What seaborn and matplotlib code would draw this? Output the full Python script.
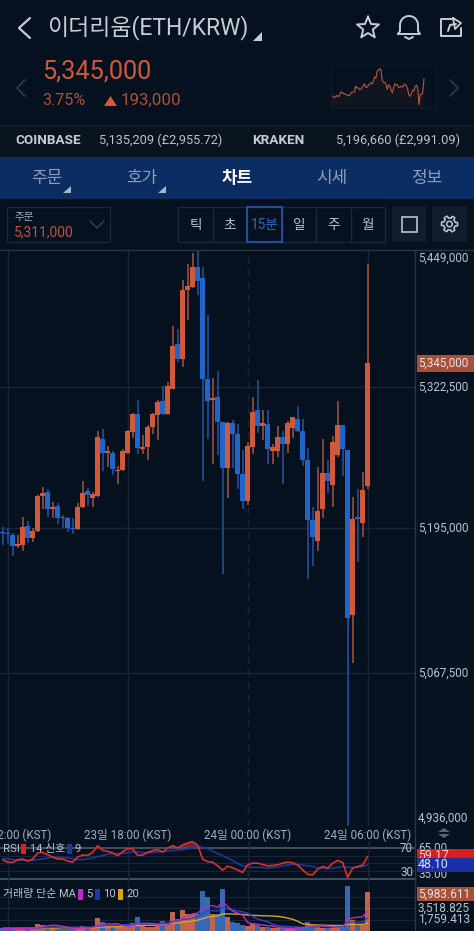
#!/usr/bin/env python3
"""ETH/KRW 15 minute candle screen from a mobile trading app."""

import numpy as np
import pandas as pd
import matplotlib
matplotlib.use('Agg')
import matplotlib.pyplot as plt
from matplotlib.patches import Rectangle, Circle, Polygon
import seaborn as sns

# candles, thousand KRW
opens = [5191.5, 5190.6, 5189.1, 5178.8, 5180.0, 5197.1, 5185.9, 5192.9, 5224.2, 5227.2,
         5212.2, 5214.9, 5204.6, 5203.7, 5195.6, 5194.1, 5214.0, 5228.2, 5221.8, 5224.2,
         5274.9, 5262.2, 5262.2, 5246.2, 5247.1, 5262.2, 5282.1, 5298.1, 5266.7, 5267.9,
         5286.0, 5297.5, 5310.1, 5298.1, 5321.0, 5362.6, 5348.7, 5412.6, 5415.1, 5433.6,
         5423.8, 5329.9, 5311.0, 5313.5, 5290.8, 5249.3, 5289.9, 5280.3, 5244.1, 5219.1,
         5268.2, 5301.7, 5287.5, 5289.0, 5264.0, 5264.9, 5277.0, 5270.4, 5285.4, 5293.9,
         5283.0, 5256.2, 5201.9, 5183.8, 5212.2, 5245.0, 5233.3, 5260.7, 5287.8, 5265.8,
         5118.4, 5205.0, 5200.0, 5232.6]
closes = [5190.6, 5189.7, 5179.4, 5180.9, 5196.5, 5186.2, 5192.9, 5224.2, 5226.6, 5212.2,
          5213.7, 5204.0, 5203.7, 5195.3, 5194.4, 5214.0, 5226.6, 5225.1, 5225.7, 5277.3,
          5262.2, 5264.0, 5248.0, 5247.4, 5264.0, 5283.0, 5298.1, 5267.0, 5268.2, 5286.0,
          5298.1, 5308.9, 5298.1, 5323.7, 5360.5, 5348.7, 5412.6, 5415.7, 5433.6, 5421.0,
          5329.9, 5310.1, 5312.5, 5291.1, 5249.3, 5289.9, 5280.3, 5244.1, 5219.1, 5268.8,
          5299.6, 5287.5, 5289.9, 5266.4, 5267.9, 5277.0, 5270.4, 5290.2, 5295.0, 5283.0,
          5256.2, 5201.9, 5187.3, 5210.7, 5245.0, 5237.2, 5272.2, 5287.8, 5266.4, 5115.5,
          5203.4, 5203.2, 5229.6, 5345.0]
highs = [5196.5, 5195.0, 5190.6, 5189.1, 5204.6, 5201.0, 5195.0, 5225.1, 5232.1, 5229.7,
         5218.2, 5217.6, 5206.5, 5204.6, 5204.0, 5217.6, 5237.2, 5230.6, 5227.2, 5282.4,
         5284.5, 5268.8, 5264.3, 5250.8, 5266.7, 5283.9, 5299.0, 5311.0, 5279.1, 5288.4,
         5299.0, 5311.0, 5323.7, 5327.7, 5379.3, 5376.2, 5421.9, 5436.7, 5446.6, 5449.0,
         5433.6, 5389.5, 5330.8, 5337.0, 5290.8, 5290.5, 5293.0, 5289.3, 5265.2, 5272.5,
         5314.0, 5329.3, 5302.0, 5302.0, 5271.0, 5287.5, 5282.4, 5291.4, 5295.0, 5305.0,
         5293.9, 5267.3, 5214.0, 5250.2, 5274.9, 5256.2, 5277.9, 5310.1, 5287.8, 5265.8,
         5223.0, 5230.3, 5245.9, 5436.7]
lows = [5180.3, 5181.8, 5170.0, 5177.3, 5174.4, 5181.8, 5182.6, 5192.0, 5212.2, 5204.6,
        5203.7, 5198.6, 5195.0, 5192.0, 5190.0, 5193.5, 5213.1, 5215.2, 5213.7, 5223.0,
        5246.2, 5250.2, 5243.2, 5235.1, 5246.8, 5261.6, 5275.8, 5261.3, 5261.3, 5255.9,
        5280.0, 5274.0, 5297.5, 5297.5, 5320.7, 5345.7, 5341.0, 5384.2, 5414.2, 5408.0,
        5237.2, 5274.9, 5252.7, 5260.4, 5153.8, 5222.1, 5249.3, 5230.3, 5212.2, 5216.1,
        5261.3, 5280.9, 5274.0, 5252.3, 5252.7, 5259.2, 5234.2, 5262.2, 5276.4, 5281.8,
        5250.8, 5149.4, 5161.2, 5175.0, 5204.0, 5226.6, 5214.0, 5259.2, 5241.7, 4936.0,
        5075.8, 5164.6, 5187.0, 5230.0]

rsi = [54.8, 51.7, 51.3, 54.8, 55.7, 53.0, 55.7, 63.5, 64.3, 61.3, 58.3, 55.7, 55.7, 53.0, 51.7,
       58.3, 60.9, 60.4, 64.3, 73.0, 67.0, 65.7, 63.5, 60.0, 65.2, 69.1, 68.7, 60.4, 60.9, 64.3,
       66.5, 67.8, 64.8, 70.0, 73.0, 70.0, 73.9, 76.5, 78.3, 73.5, 55.7, 52.2, 51.7, 47.0, 41.3,
       46.5, 44.3, 41.7, 38.3, 48.3, 50.4, 50.4, 48.7, 47.0, 47.4, 48.3, 50.4, 51.7, 50.9, 47.8,
       41.7, 36.1, 35.2, 42.6, 46.1, 43.9, 50.4, 53.9, 51.3, 32.2, 43.9, 46.1, 47.8, 59.17]
rsi_signal = [56, 56, 55, 54, 54, 54, 54, 55, 56, 57, 58, 58, 58, 57, 56, 55, 55, 56, 57, 59,
              60, 62, 63, 63, 63, 64, 65, 65, 64, 64, 64, 65, 65, 66, 67, 67, 68, 69, 71, 72,
              71, 69, 66, 63, 60, 57, 54, 50, 47, 46, 45, 45, 45, 44, 45, 45, 47, 48, 49, 49,
              48, 47, 46, 44, 44, 43, 44, 45, 46, 45, 45, 45, 46, 48.1]

volume = [410, 410, 300, 260, 360, 450, 420, 1077, 923, 513, 513, 410, 359, 359, 256, 564, 769, 410,
          564, 2051, 1384, 872, 564, 666, 666, 769, 1179, 2102, 769, 666, 666, 769, 1487, 923, 2871,
          1794, 3230, 2666, 2615, 2615, 6152, 5178, 2615, 2615, 6408, 2205, 1384, 1282, 923, 769, 1282,
          923, 564, 564, 410, 410, 410, 410, 410, 564, 666, 1333, 872, 666, 513, 410, 410, 513, 564,
          6972, 1692, 872, 872, 5983.611]
vol_ma5 = [380, 380, 370, 360, 350, 380, 400, 570, 690, 780, 890, 840, 720, 570, 400, 410, 460, 470,
           560, 860, 1040, 1090, 1090, 1110, 830, 710, 770, 1080, 1110, 1140, 1130, 930, 910, 910, 1340,
           1550, 2060, 2240, 2640, 2730, 3440, 3840, 3910, 3640, 4480, 3760, 3050, 2780, 2440, 1320, 1090,
           1060, 920, 820, 750, 580, 470, 440, 410, 440, 490, 640, 770, 820, 810, 750, 620, 540, 480,
           1770, 2030, 2110, 2190, 3090]
vol_ma10 = [400, 400, 400, 400, 390, 390, 390, 450, 510, 540, 590, 590, 600, 590, 570, 580, 610, 590,
            590, 740, 820, 860, 880, 910, 950, 970, 1010, 1190, 1210, 1210, 1140, 1130, 1220, 1250, 1470,
            1570, 1770, 1820, 1990, 2180, 2680, 3120, 3130, 3080, 3640, 3410, 3230, 3100, 2930, 2750, 2260,
            1830, 1620, 1420, 1020, 840, 740, 690, 640, 620, 560, 600, 630, 640, 660, 660, 660, 670, 680,
            1320, 1420, 1380, 1380, 2020]
vol_ma20 = [420, 420, 430, 430, 440, 440, 450, 460, 470, 470, 480, 490, 490, 490, 480, 490, 500, 500,
            510, 590, 630, 650, 660, 680, 700, 710, 750, 840, 870, 880, 880, 900, 960, 1010, 1160,
            1220, 1340, 1440, 1540, 1660, 1900, 2130, 2240, 2340, 2610, 2640, 2630, 2590, 2540, 2470, 2420,
            2380, 2350, 2330, 2300, 2250, 2150, 2000, 1800, 1500, 1100, 1000, 950, 920, 890, 870, 860, 850, 840,
            1000, 1020, 1020, 1030, 1200]

price_ticks = [5322500, 5195000, 5067500]
price_tick_labels = ['5,449,000', '5,322,500', '5,195,000', '5,067,500', '4,936,000']
time_ticks = [1, 25, 49, 73]
time_labels = ['23일 12:00 (KST)', '23일 18:00 (KST)', '24일 00:00 (KST)', '24일 06:00 (KST)']
tabs = ['주문', '호가', '차트', '시세', '정보']
periods = ['틱', '초', '15분', '일', '주', '월']

BG = '#06111f'
ORANGE = '#d2583a'
ORANGE_DIM = '#8c4b3c'
BLUE = '#1f66c8'
BLUE_DIM = '#1f4a92'
GRID = '#1a2635'
TEXT = '#b9c3cf'
W, H = 474, 931

sns.set_theme(style='dark')
plt.rcParams['font.family'] = ['Roboto', 'Noto Sans CJK KR', 'DejaVu Sans']

df = pd.DataFrame({'i': np.arange(len(closes)), 'open': opens, 'close': closes, 'high': highs, 'low': lows,
                   'rsi': rsi, 'signal': rsi_signal, 'volume': volume,
                   'ma5': vol_ma5, 'ma10': vol_ma10, 'ma20': vol_ma20})
for c in ['open', 'close', 'high', 'low']:
    df[c] = df[c] * 1000
df['up'] = df['close'] >= df['open']

fig = plt.figure(figsize=(W / 100, H / 100), dpi=100, facecolor=BG)


def panel(x0, y0, x1, y1):
    # axes from pixel box, y counted from the top of the picture
    a = fig.add_axes([x0 / W, 1 - y1 / H, (x1 - x0) / W, (y1 - y0) / H], facecolor='none')
    a.set_xlim(-0.534, 82.47)
    a.tick_params(length=0, labelleft=False, labelbottom=False)
    for s in a.spines.values():
        s.set_visible(False)
    a.grid(False)
    a.set_xlabel('')
    a.set_ylabel('')
    return a


# main candle panel
ax = panel(0, 250.7, 415, 825.5)
ax.set_yscale('log')
ax.set_ylim(4936000, 5449000)
ax.minorticks_off()
ax.hlines(price_ticks, -1, 83, color=GRID, lw=1, zorder=1)
for t in time_ticks:
    ax.axvline(t, color=GRID, lw=1, ls=(0, (5, 4)) if t == 49 else '-', zorder=1)
ax.vlines(df['i'], df['low'], df['high'], colors=np.where(df['up'], ORANGE_DIM, BLUE_DIM), lw=1.3, zorder=2)
body_low = df[['open', 'close']].min(axis=1)
body_high = df[['open', 'close']].max(axis=1)
ax.bar(df['i'], body_high - body_low, bottom=body_low, width=0.95,
       color=np.where(df['up'], ORANGE, BLUE), linewidth=0, zorder=3)
ax.set_xticks(time_ticks, time_labels)
ax.tick_params(axis='x', labelbottom=True, labelsize=8.4, labelcolor='#a3aebb', pad=2.5)
ax.set_yticks([])

# RSI panel
ax_rsi = panel(0, 841, 415, 883)
ax_rsi.set_ylim(24.8, 79)
ax_rsi.set_yticks([])
ax_rsi.hlines([70, 30], -1, 83, color='#565f6b', lw=1.1, zorder=1)
ax_rsi.hlines([60, 50, 40], -1, 83, color=GRID, lw=0.7, zorder=1)
for t in time_ticks:
    ax_rsi.axvline(t, color=GRID, lw=1, zorder=1)
rsi_arr = np.array(rsi, dtype=float)
ax_rsi.fill_between(df['i'], 70, rsi_arr, where=rsi_arr >= 70, color='#a5303a', alpha=0.65, lw=0, interpolate=True)
sns.lineplot(data=df, x='i', y='signal', ax=ax_rsi, color='#1c3aa0', lw=1.1, errorbar=None, zorder=2)
sns.lineplot(data=df, x='i', y='rsi', ax=ax_rsi, color='#df2e2e', lw=1.2, errorbar=None, zorder=3)
ax_rsi.set_xlabel('')
ax_rsi.set_ylabel('')

# volume panel
ax_vol = panel(0, 885, 415, 931)
ax_vol.set_ylim(0, 46 / 0.0065)
ax_vol.set_yticks([])
ax_vol.hlines([5178, 3518.825, 1759.413], -1, 83, color=GRID, lw=0.8, zorder=1)
for t in time_ticks:
    ax_vol.axvline(t, color=GRID, lw=1, zorder=1)
sns.barplot(data=df, x='i', y='volume', hue='up', palette={True: ORANGE, False: BLUE}, native_scale=True,
            dodge=False, width=0.95, legend=False, ax=ax_vol, zorder=2, linewidth=0)
sns.lineplot(data=df, x='i', y='ma20', ax=ax_vol, color='#d9a21f', lw=1, errorbar=None, zorder=3)
sns.lineplot(data=df, x='i', y='ma10', ax=ax_vol, color='#2a48c0', lw=1, errorbar=None, zorder=4)
sns.lineplot(data=df, x='i', y='ma5', ax=ax_vol, color='#c02ac0', lw=1, errorbar=None, zorder=5)
ax_vol.set_xlim(-0.534, 82.47)
ax_vol.set_xlabel('')
ax_vol.set_ylabel('')

# small price line in the header
ax_spark = panel(331, 65, 436, 108)
ax_spark.set_ylim(5085000, 5465000)
ax_spark.set_yticks([])
for s in ax_spark.spines.values():
    s.set_visible(True)
    s.set_color('#101b29')
    s.set_linewidth(0.8)
ax_spark.fill_between(df['i'], 5085000, df['close'], color='#d2583a', alpha=0.06, lw=0)
sns.lineplot(data=df, x='i', y='close', ax=ax_spark, color='#b9553f', lw=0.8, errorbar=None)
ax_spark.set_xlabel('')
ax_spark.set_ylabel('')

# app chrome, drawn in picture pixels
ui = fig.add_axes([0, 0, 1, 1], facecolor='none')
ui.set_xlim(0, W)
ui.set_ylim(H, 0)
ui.axis('off')


def txt(x, y, s, size=9, color=TEXT, ha='left', weight='normal'):
    ui.text(x, y, s, fontsize=size, color=color, ha=ha, va='center', fontweight=weight)


def rect(x0, y0, x1, y1, fc='none', ec='none', lw=1, z=1):
    ui.add_patch(Rectangle((x0, y0), x1 - x0, y1 - y0, fc=fc, ec=ec, lw=lw, zorder=z))


def tri(pts, color='#c5ced8'):
    ui.add_patch(Polygon(pts, closed=True, fc=color, ec='none', zorder=4))


def line(xs, ys, color=TEXT, lw=1.4):
    ui.plot(xs, ys, color=color, lw=lw, solid_capstyle='round', solid_joinstyle='round', zorder=4)


# title row
line([30, 19, 30], [18, 28, 38], '#c5ced8', 1.6)
txt(47, 27.5, '이더리움(ETH/KRW)', 16.5, '#c5ced8')
tri([(262, 32), (262, 41), (253, 41)])
angles = np.deg2rad(np.arange(-90, 270, 36))
radii = np.where(np.arange(10) % 2 == 0, 11.5, 5)
line(np.r_[368 + radii * np.cos(angles), 368 + radii[0] * np.cos(angles[0])],
     np.r_[28 + radii * np.sin(angles), 28 + radii[0] * np.sin(angles[0])], '#c5ced8', 1.4)
bell_t = np.linspace(np.pi, 2 * np.pi, 20)
line(np.r_[398, 400, 409 + 9 * np.cos(bell_t), 418, 420, 398],
     np.r_[34, 31, 25 + 9 * np.sin(bell_t), 31, 34, 34], '#c5ced8', 1.4)
line([405, 409, 413], [37, 39, 37], '#c5ced8', 1.4)
line([452, 441, 441, 461, 461], [19, 19, 36, 36, 28], '#c5ced8', 1.4)
line([448, 450, 456], [31, 25, 24], '#c5ced8', 1.4)
line([453, 461, 455, 453], [18, 23, 29, 18], '#c5ced8', 1.3)

# price row
line([25, 17, 25], [80, 88, 96], '#2b3a4c', 1.3)
line([450, 458, 450], [80, 88, 96], '#2b3a4c', 1.3)
txt(42, 71.5, '5,345,000', 18.2, ORANGE)
txt(42, 100.5, '3.75%', 11.6, '#b04f39')
tri([(104, 106), (117, 106), (110.5, 96)], ORANGE)
txt(121, 100.5, '193,000', 12.2, '#b04f39')

# exchange row
ui.plot([0, W], [124.5, 124.5], color='#152131', lw=1)
rect(0, 125, W, 157, fc='#08131f', z=0)
txt(15, 140, 'COINBASE', 9.7, '#c5ced8', weight='bold')
txt(99, 140, '5,135,209 (£2,955.72)', 9.2, '#b9c3cf')
txt(252, 140, 'KRAKEN', 9.7, '#c5ced8', weight='bold')
txt(336, 140, '5,196,660 (£2,991.09)', 9.2, '#b9c3cf')

# tab band
rect(0, 157, W, 199, fc='#0c2d63', z=0)
for n, name in enumerate(tabs):
    active = name == '차트'
    txt(47 + 95 * n, 178, name, 12.2, 'white' if active else '#8c9db8', ha='center', weight='bold' if active else 'normal')
tri([(71, 186), (71, 193), (63, 193)], '#a8b6cb')
tri([(166, 186), (166, 193), (158, 193)], '#a8b6cb')

# order box and period buttons
rect(7.5, 206.5, 110, 242, ec='#1a2838')
txt(14, 217, '주문', 7.6, '#a3aebb')
txt(14, 232, '5,311,000', 10, '#b9553f')
line([90, 97, 104], [221, 228, 221], '#33404f', 1.1)
rect(178.5, 206.5, 385.5, 242, ec='#1a2838')
for n, name in enumerate(periods):
    cx = 195.5 + 34.5 * n
    if n:
        ui.plot([cx - 17.25, cx - 17.25], [206.5, 242], color='#1a2838', lw=1, zorder=2)
    txt(cx, 224.5, name, 9.8, '#2d69c4' if name == '15분' else '#b9c3cf', ha='center')
rect(247.5, 206.5, 282, 242, ec='#2353a8', lw=1.3, z=3)
rect(392, 206, 426.5, 242, fc='#121c2a')
rect(402, 217, 417, 232, ec='#b9c3cf', lw=1.2, z=3)
rect(432.5, 206, 467, 242, fc='#121c2a')
gear_t = np.linspace(0, 2 * np.pi, 97)
line(449.5 + (7 + 1.1 * np.sign(np.cos(6 * gear_t))) * np.cos(gear_t),
     224 + (7 + 1.1 * np.sign(np.cos(6 * gear_t))) * np.sin(gear_t), '#b9c3cf', 1.1)
ui.add_patch(Circle((449.5, 224), 2.8, fc='none', ec='#b9c3cf', lw=1.1, zorder=4))

# frame of the chart and the price scale
ui.plot([0, W], [250.3, 250.3], color='#2b3645', lw=1)
ui.plot([415, 415], [250, H], color='#2b3645', lw=1)
for y, label in zip([258, 387, 528, 673, 818.5], price_tick_labels):
    txt(418, y, label, 8.4, '#b9c3cf')
rect(417, 355, W, 372, fc='#a84f3a', z=2)
ui.text(418, 363.5, '5,345,000', fontsize=8.4, color='#e6e6e6', va='center', zorder=5)
tri([(444, 828), (450, 832), (438, 832)], '#5b6675')
tri([(438, 834), (450, 834), (444, 838)], '#5b6675')

# RSI legend and scale
txt(3, 849, 'RSI', 8.2, '#b9c3cf')
rect(21, 844, 26, 854, fc='#df2020', z=3)
txt(30, 849, '14 신호', 7.9, '#b9c3cf')
rect(67, 844, 72, 854, fc='#1c3aa0', z=3)
txt(75, 849, '9', 8.2, '#b9c3cf')
txt(413, 848, '70', 8.4, '#b9c3cf', ha='right')
txt(413, 872, '30', 8.4, '#b9c3cf', ha='right')
txt(418, 849, '65.00', 8.4, '#b9c3cf')
txt(418, 875, '35.00', 8.4, '#b9c3cf')
rect(417, 849, W, 857.5, fc='#d81e1e', z=5)
ui.text(418, 855.5, '59.17', fontsize=8.8, color='#f0d8d8', va='center', zorder=5.5, clip_on=True)
rect(417, 857.5, W, 872, fc='#1b2fa8', z=6)
ui.text(418, 865, '48.10', fontsize=8.8, color='#e6e6f0', va='center', zorder=7)

# volume legend and scale
txt(3, 894, '거래량 단순 MA', 7.9, '#b9c3cf')
rect(78, 889, 83, 900, fc='#c02ac0', z=3)
txt(86, 894, '5', 8.2, '#b9c3cf')
rect(95, 889, 100, 900, fc='#1c3aa0', z=3)
txt(103, 894, '10', 8.2, '#b9c3cf')
rect(118, 889, 123, 900, fc='#e0a010', z=3)
txt(126, 894, '20', 8.2, '#b9c3cf')
rect(417, 887, W, 901, fc='#a84f3a', z=2)
ui.text(418, 894, '5,983.611', fontsize=8.6, color='#e6e6e6', va='center', zorder=5)
txt(418, 908, '3,518.825', 8.6, '#b9c3cf')
txt(418, 919, '1,759.413', 8.6, '#b9c3cf')

fig.savefig('out.png', dpi=100, facecolor=BG)
plt.close(fig)
